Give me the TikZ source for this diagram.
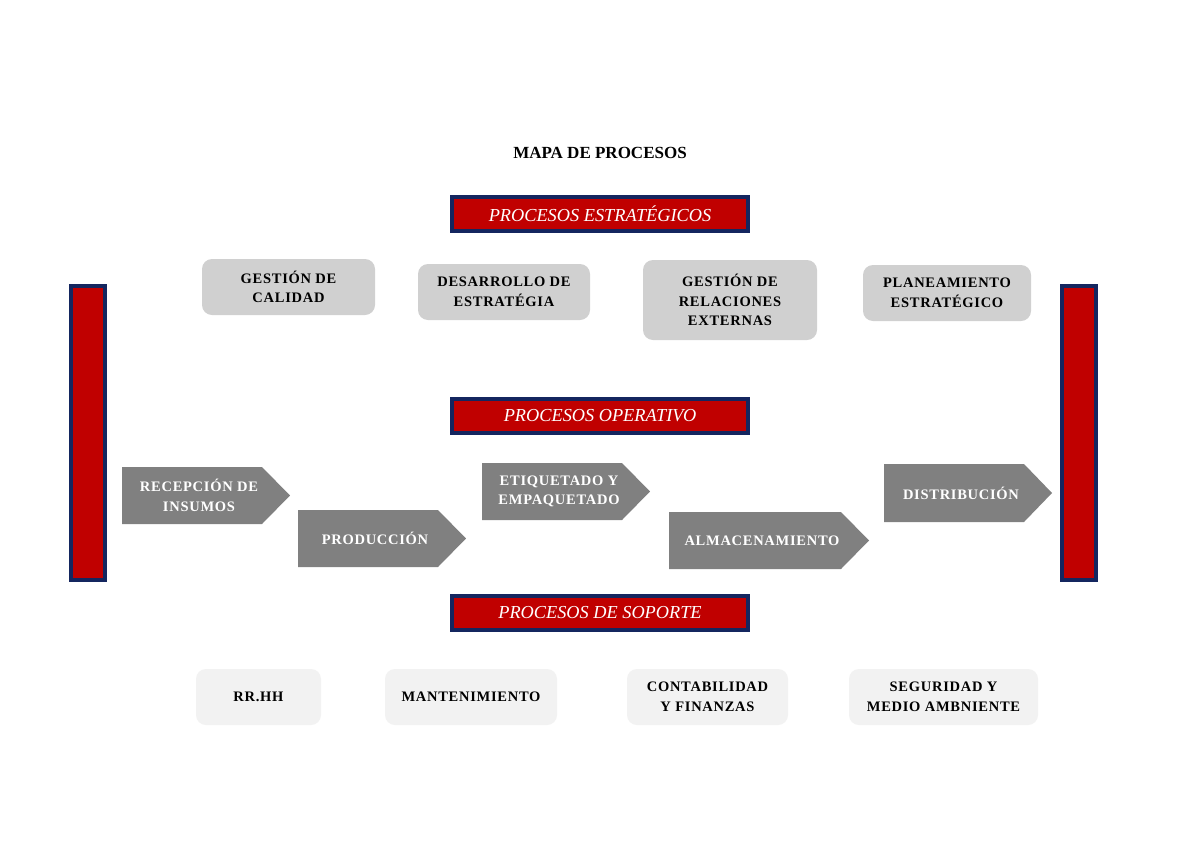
\documentclass[tikz,border=0pt]{standalone}
\usepackage{fontspec}
\setmainfont{Liberation Serif}
\newfontfamily\spacedfont[LetterSpace=5]{Liberation Serif}
\definecolor{hdrred}{HTML}{C00000}
\definecolor{navyb}{HTML}{14265F}
\definecolor{stratgray}{HTML}{D0D0D0}
\definecolor{arrowgray}{HTML}{808080}
\definecolor{sopgray}{HTML}{F2F2F2}
\newcommand\procarrow[7]{%
  \fill[arrowgray] (#1,#2) -- ({#3-28},#2) -- (#3,{(#2+#4)/2}) -- ({#3-28},#4) -- (#1,#4) -- cycle;
  \node[arrowtext] (#5) at ({(#1+#3)/2-7},{(#2+#4)/2}) {#6};
}
\begin{document}
\begin{tikzpicture}[x=1pt,y=-1pt,
  titlestyle/.style={font=\bfseries\fontsize{17}{20}\selectfont},
  hdr/.style={draw=navyb,line width=4pt,fill=hdrred,minimum width=296pt,minimum height=34pt,inner sep=0pt,
     text=white,font=\itshape\fontsize{18.3}{21}\selectfont},
  bar/.style={draw=navyb,line width=4pt,fill=hdrred,minimum width=34pt,minimum height=294pt,inner sep=0pt},
  boxtext/.style={align=center,font=\spacedfont\bfseries\fontsize{14.5}{19.5}\selectfont,inner sep=0pt},
  stratbox/.style={boxtext,fill=stratgray,rounded corners=10pt,text=black},
  sopbox/.style={boxtext,fill=sopgray,rounded corners=10pt,text=black},
  arrowtext/.style={boxtext,text=white}]
\useasboundingbox (0,0) rectangle (1200,849);
\fill[white] (0,0) rectangle (1200,849);

\node[titlestyle] (title) at (600,153) {MAPA DE PROCESOS};

\node[hdr] (hest) at (600,214) {PROCESOS ESTRATÉGICOS};
\node[hdr] (hope) at (600,416) {PROCESOS OPERATIVO};
\node[hdr] (hsop) at (600,612.5) {PROCESOS DE SOPORTE};

\node[bar] (lbar) at (88,433) {};
\node[bar] (rbar) at (1078.5,433) {};

\node[stratbox,minimum width=173pt,minimum height=56pt] (gc) at (288.5,287) {GESTIÓN DE\\CALIDAD};
\node[stratbox,minimum width=172pt,minimum height=56pt] (de) at (504,292) {DESARROLLO DE\\ESTRATÉGIA};
\node[stratbox,minimum width=174pt,minimum height=80pt] (gr) at (730,300) {GESTIÓN DE\\RELACIONES\\EXTERNAS};
\node[stratbox,minimum width=168pt,minimum height=56pt] (pe) at (947,293) {PLANEAMIENTO\\ESTRATÉGICO};

\procarrow{122}{467}{290}{524}{rec}{RECEPCIÓN DE\\INSUMOS}{}
\procarrow{298}{510}{466}{567}{prod}{PRODUCCIÓN}{}
\procarrow{482}{463}{650}{520}{etiq}{ETIQUETADO Y\\EMPAQUETADO}{}
\procarrow{669}{512}{869}{569}{alm}{ALMACENAMIENTO}{}
\procarrow{884}{464}{1052}{522}{dist}{DISTRIBUCIÓN}{}

\node[sopbox,minimum width=125pt,minimum height=56pt] (rrhh) at (258.5,697) {RR.HH};
\node[sopbox,minimum width=172pt,minimum height=56pt] (mant) at (471,697) {MANTENIMIENTO};
\node[sopbox,minimum width=161pt,minimum height=56pt] (cont) at (707.5,697) {CONTABILIDAD\\Y FINANZAS};
\node[sopbox,minimum width=189pt,minimum height=56pt] (seg) at (943.5,697) {SEGURIDAD Y\\MEDIO AMBNIENTE};
\end{tikzpicture}
\end{document}
